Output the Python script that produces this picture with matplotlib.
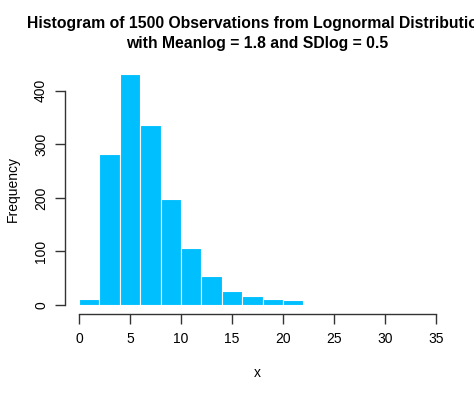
import matplotlib
matplotlib.use("Agg")
import matplotlib.pyplot as plt
import numpy as np

plt.rcParams['font.family'] = ['Liberation Sans', 'DejaVu Sans']

bin_edges = [0, 2, 4, 6, 8, 10, 12, 14, 16, 18, 20, 22]
counts = [12, 282, 432, 335, 198, 107, 54, 26, 17, 11, 9]
x_ticks = [0, 5, 10, 15, 20, 25, 30, 35]
y_ticks = [0, 100, 200, 300, 400]
title = "Histogram of 1500 Observations from Lognormal Distribution\nwith Meanlog = 1.8 and SDlog = 0.5"

W, H = 474, 395
fig = plt.figure(figsize=(W / 100, H / 100), dpi=100)
left, right = 64.7, 450.3
top, bottom = 63.7, 314.3
ax = fig.add_axes([left / W, 1 - bottom / H, (right - left) / W, (bottom - top) / H])

widths = np.diff(bin_edges)
ax.bar(bin_edges[:-1], counts, width=widths, align='edge',
       color='#00BFFF', edgecolor='white', linewidth=0.8)

ax.set_xlim(-1.4, 36.4)
ax.set_ylim(-17.3, 450.3)
for s in ['top', 'right']:
    ax.spines[s].set_visible(False)
ax.spines['bottom'].set_bounds(x_ticks[0], x_ticks[-1])
ax.spines['left'].set_bounds(y_ticks[0], y_ticks[-1])
for s in ['bottom', 'left']:
    ax.spines[s].set_color('#333333')
    ax.spines[s].set_linewidth(1.0)

ax.set_xticks(x_ticks)
ax.set_yticks(y_ticks)
ax.set_yticklabels([str(v) for v in y_ticks], rotation=90, va='center')
ax.tick_params(axis='both', length=7, width=1.0, color='#333333', labelsize=10)
ax.tick_params(axis='x', pad=6)
ax.tick_params(axis='y', pad=5)

ax.set_xlabel('x', fontsize=10, labelpad=14)
ax.set_ylabel('Frequency', fontsize=10, labelpad=10)

fig.text(257.5 / W, 1 - 33.5 / H, title, ha='center', va='center',
         fontsize=11.3, fontweight='bold', linespacing=1.35)

fig.savefig('out.png', dpi=100)
